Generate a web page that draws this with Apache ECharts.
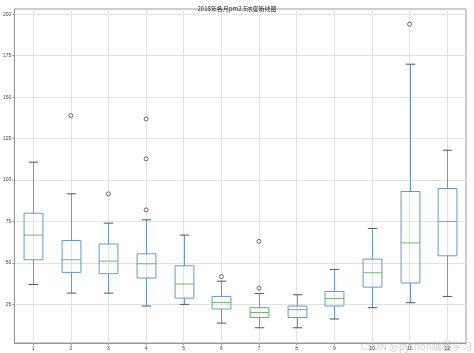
<!DOCTYPE html>
<html>
<head>
<meta charset="utf-8">
<script src="https://cdn.jsdelivr.net/npm/echarts@6/dist/echarts.min.js"></script>
<style>
html, body { margin: 0; padding: 0; background: #fff; }
#main { width: 474px; height: 353px; }
</style>
</head>
<body>
<div id="main"></div>
<script>
// 月份
var months = ['1', '2', '3', '4', '5', '6', '7', '8', '9', '10', '11', '12'];
// 箱线图五数
var lowWhisker = [37, 31.8, 31.8, 24, 25, 13.7, 10.9, 10.9, 16.2, 23, 26, 29.8];
var q1 = [51.9, 44.3, 43.5, 40.9, 28.8, 22.2, 17.1, 17.1, 24, 35.4, 37.9, 54.3];
var median = [66.8, 51.9, 51.1, 49.5, 37.3, 26.2, 20.1, 21.8, 28.6, 44.1, 62.1, 75];
var q3 = [80, 63.5, 61.4, 55.5, 48.3, 29.8, 23, 24, 32.8, 52.3, 93.1, 94.9];
var highWhisker = [110.8, 91.7, 74, 76, 66.8, 39, 31.6, 30.8, 46.1, 70.8, 169.9, 118];
// 异常值 [月份, 值]
var outliers = [[2, 138.9], [3, 91.7], [4, 82], [4, 112.8], [4, 136.9], [6, 41.8], [7, 63], [7, 34.8], [11, 194]];
// 刻度
var xTicks = [1, 2, 3, 4, 5, 6, 7, 8, 9, 10, 11, 12];
var yTicks = [25, 50, 75, 100, 125, 150, 175, 200];

var boxData = months.map(function (m, i) {
    return [i + 1, lowWhisker[i], q1[i], median[i], q3[i], highWhisker[i]];
});

var boxColor = '#5d9bd0';
var capColor = '#555';
var medColor = '#6cbf5c';

function renderBox(params, api) {
    var pos = api.value(0);
    var unit = api.size([1, 0])[0];
    var half = unit * 0.25;  // 箱体宽度 0.5
    var capHalf = unit * 0.125;
    var pLow = api.coord([pos, api.value(1)]);
    var pQ1 = api.coord([pos, api.value(2)]);
    var pMed = api.coord([pos, api.value(3)]);
    var pQ3 = api.coord([pos, api.value(4)]);
    var pHigh = api.coord([pos, api.value(5)]);
    var x = Math.round(pMed[0]) + 0.5;
    function line(x1, y1, x2, y2, c) {
        return { type: 'line', shape: { x1: x1, y1: y1, x2: x2, y2: y2 }, style: { stroke: c, lineWidth: 1 } };
    }
    return {
        type: 'group',
        children: [
            line(x, pQ1[1], x, pLow[1], boxColor),
            line(x, pQ3[1], x, pHigh[1], boxColor),
            line(x - capHalf, pLow[1], x + capHalf, pLow[1], capColor),
            line(x - capHalf, pHigh[1], x + capHalf, pHigh[1], capColor),
            {
                type: 'rect',
                shape: { x: x - half, y: pQ3[1], width: half * 2, height: pQ1[1] - pQ3[1] },
                style: { fill: 'none', stroke: boxColor, lineWidth: 1 }
            },
            line(x - half, pMed[1], x + half, pMed[1], medColor)
        ]
    };
}

var myChart = echarts.init(document.getElementById('main'));
var option = {
    animation: false,
    backgroundColor: '#fff',
    title: {
        text: '2018年各月pm2.5浓度箱线图',
        left: 'center',
        top: 1,
        textStyle: { fontSize: 6, fontWeight: 'normal', color: '#333', fontFamily: 'Noto Sans CJK SC' }
    },
    grid: { left: 13, right: 8, top: 9, bottom: 10, containLabel: false, show: true, borderColor: '#999', borderWidth: 1 },
    xAxis: {
        type: 'value',
        min: 0.5,
        max: 12.5,
        axisLine: { show: true, onZero: false, lineStyle: { color: '#999' } },
        axisTick: { show: true, length: 2, customValues: xTicks, lineStyle: { color: '#999' } },
        axisLabel: {
            fontSize: 5, color: '#444', margin: 3, customValues: xTicks,
            formatter: function (v) { return months[v - 1]; }
        },
        splitLine: { show: true, lineStyle: { color: '#e2e2e2' } }
    },
    yAxis: {
        type: 'value',
        min: 1.7,
        max: 203.2,
        axisLine: { show: true, onZero: false, lineStyle: { color: '#999' } },
        axisTick: { show: true, length: 2, customValues: yTicks, lineStyle: { color: '#999' } },
        axisLabel: { fontSize: 5, color: '#444', margin: 3, customValues: yTicks },
        splitLine: { show: true, lineStyle: { color: '#e2e2e2' } }
    },
    graphic: [{
        type: 'text',
        right: 2,
        bottom: 2,
        style: { text: 'CSDN @python编程学习', fontSize: 10, fill: '#d0d0d0', fontFamily: 'Noto Sans CJK SC' }
    }],
    series: [
        {
            type: 'custom',
            renderItem: renderBox,
            encode: { x: 0, y: [1, 2, 3, 4, 5] },
            data: boxData
        },
        {
            type: 'scatter',
            symbol: 'circle',
            symbolSize: 4,
            itemStyle: { color: '#fff', borderColor: '#444', borderWidth: 1 },
            data: outliers
        }
    ]
};
myChart.setOption(option);
</script>
</body>
</html>
